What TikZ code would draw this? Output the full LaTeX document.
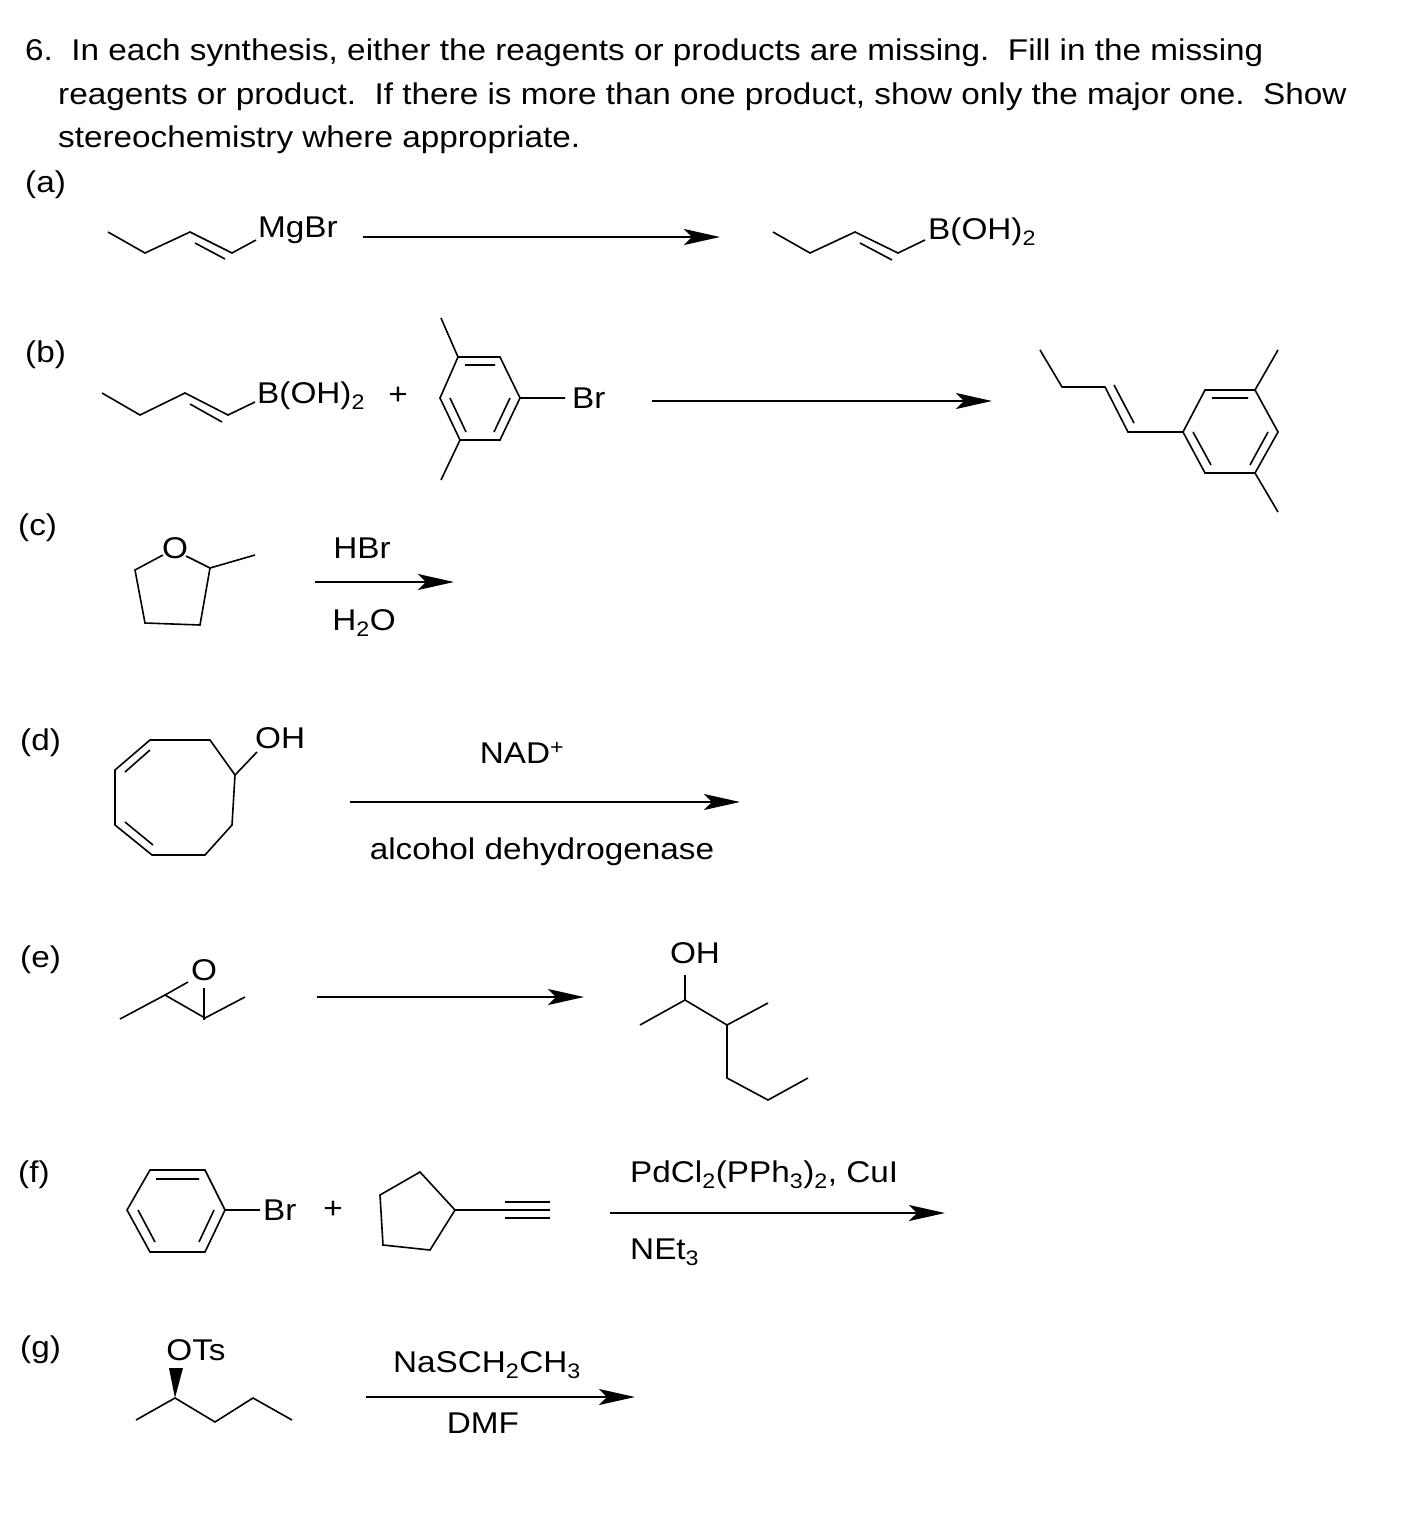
\documentclass[tikz,border=0pt]{standalone}
\usepackage{fontspec}
\setmainfont{Liberation Sans}[FakeStretch=1.11]
\usetikzlibrary{arrows.meta}
\newcommand{\sbs}[1]{\textsubscript{#1}}
\newcommand{\sps}[1]{\textsuperscript{#1}}
\begin{document}
\begin{tikzpicture}[x=1pt,y=-1pt,
  bond/.style={line width=1.6pt},
  rxn/.style={line width=1.8pt,-{Stealth[length=36pt,width=16pt,inset=8pt]}},
  txt/.style={font=\fontsize{30}{36}\selectfont,inner sep=0pt},
  lbl/.style={txt,anchor=west}]
\useasboundingbox[fill=white] (0,0) rectangle (1410,1531);
% title
\node[lbl] (t1) at (25,53) {6.\ \ In each synthesis, either the reagents or products are missing.\ \ Fill in the missing};
\node[lbl] (t2) at (58,97) {reagents or product.\ \ If there is more than one product, show only the major one.\ \ Show};
\node[lbl] (t3) at (58,140) {stereochemistry where appropriate.};
% (a)
\node[lbl] (la) at (25,185) {(a)};
\draw[bond] (108,232)--(145,253)--(190,232)--(232,253)--(256,240);
\draw[bond] (195,243)--(225,259);
\node[lbl] (mgbr) at (258,230) {MgBr};
\coordinate (a1) at (363,237); \coordinate (a2) at (720,237);
\draw[rxn] (a1)--(a2);
\draw[bond] (773,232)--(810,253)--(855,232)--(898,253)--(925,240);
\node[lbl] (boh) at (928,232) {B(OH)\sbs{2}};
\draw[bond] (860,243)--(892,260);
% (b)
\node[lbl] (lb) at (25,355) {(b)};
\draw[bond] (102,393)--(140,415)--(185,393)--(228,415)--(255,402);
\draw[bond] (190,404)--(222,422);
\node[lbl] (boh2) at (257,396) {B(OH)\sbs{2}};
\node[txt] (p1) at (398,396) {+};
\draw[bond] (458,357)--(500,357)--(520,398)--(500,440)--(460,440)--(440,398)--cycle;
\draw[bond] (465,365)--(495,365) (510,398)--(494,432) (450,398)--(466,432);
\draw[bond] (458,357)--(441,318) (460,440)--(441,480) (520,398)--(565,398);
\node[lbl] (br1) at (572,398) {Br};
\coordinate (b1) at (652,401); \coordinate (b2) at (992,401);
\draw[rxn] (b1)--(b2);
\draw[bond] (1040,350)--(1062,387)--(1105,387)--(1128,432)--(1183,432);
\draw[bond] (1114,385)--(1134,423);
\draw[bond] (1183,432)--(1205,390)--(1255,390)--(1278,432)--(1255,473)--(1205,473)--cycle;
\draw[bond] (1212,398)--(1248,398) (1268,432)--(1250,465) (1193,432)--(1211,465);
\draw[bond] (1255,390)--(1278,350) (1255,473)--(1278,512);
% (c)
\node[lbl] (lc) at (18,528) {(c)};
\node[txt] (oc) at (175,548) {O};
\draw[bond] (186,556)--(210,568)--(200,625)--(145,623)--(135,570)--(163,555);
\draw[bond] (210,568)--(255,555);
\coordinate (c1) at (315,582); \coordinate (c2) at (454,582);
\draw[rxn] (c1)--(c2);
\node[txt] (hbr) at (362,548) {HBr};
\node[txt] (h2o) at (364,623) {H\sbs{2}O};
% (d)
\node[lbl] (ld) at (20,743) {(d)};
\draw[bond] (150,740)--(210,740)--(235,775)--(232,825)--(205,855)--(152,855)--(115,825)--(115,770)--cycle;
\draw[bond] (150,750)--(125,772) (125,822)--(153,845);
\draw[bond] (235,775)--(257,752);
\node[lbl] (oh1) at (255,738) {OH};
\coordinate (d1) at (350,802); \coordinate (d2) at (740,802);
\draw[rxn] (d1)--(d2);
\node[txt] (nad) at (522,753) {NAD\sps{+}};
\node[txt] (adh) at (542,852) {alcohol dehydrogenase};
% (e)
\node[lbl] (le) at (20,960) {(e)};
\node[txt] (oe) at (204,970) {O};
\draw[bond] (120,1019)--(165,995)--(188,982);
\draw[bond] (165,995)--(205,1018)--(245,997);
\draw[bond] (204,988)--(204,1020);
\coordinate (e1) at (317,997); \coordinate (e2) at (584,997);
\draw[rxn] (e1)--(e2);
\node[txt] (oh2) at (695,953) {OH};
\draw[bond] (685,975)--(685,1000) (640,1025)--(685,1000)--(727,1025)--(768,1003);
\draw[bond] (727,1025)--(727,1078)--(768,1100)--(808,1078);
% (f)
\node[lbl] (lf) at (18,1175) {(f)};
\draw[bond] (150,1170)--(205,1170)--(225,1210)--(205,1252)--(150,1252)--(127,1210)--cycle;
\draw[bond] (156,1179)--(199,1179) (214,1210)--(199,1242) (138,1210)--(155,1242);
\draw[bond] (225,1210)--(260,1210);
\node[lbl] (br2) at (263,1210) {Br};
\node[txt] (p2) at (333,1210) {+};
\draw[bond] (420,1172)--(455,1210)--(430,1250)--(383,1245)--(380,1195)--cycle;
\draw[bond] (455,1210)--(550,1210) (505,1202)--(550,1202) (505,1218)--(550,1218);
\coordinate (f1) at (610,1213); \coordinate (f2) at (945,1213);
\draw[rxn] (f1)--(f2);
\node[lbl] (pd) at (630,1175) {PdCl\sbs{2}(PPh\sbs{3})\sbs{2}, CuI};
\node[lbl] (net) at (630,1252) {NEt\sbs{3}};
% (g)
\node[lbl] (lg) at (20,1350) {(g)};
\node[txt] (ots) at (196,1350) {OTs};
\draw[bond] (136,1420)--(175,1398)--(215,1422)--(253,1398)--(292,1420);
\fill (175,1398)--(169,1368)--(183,1368)--cycle;
\coordinate (g1) at (366,1397); \coordinate (g2) at (635,1397);
\draw[rxn] (g1)--(g2);
\node[txt] (nas) at (487,1365) {NaSCH\sbs{2}CH\sbs{3}};
\node[txt] (dmf) at (483,1423) {DMF};
\end{tikzpicture}
\end{document}
